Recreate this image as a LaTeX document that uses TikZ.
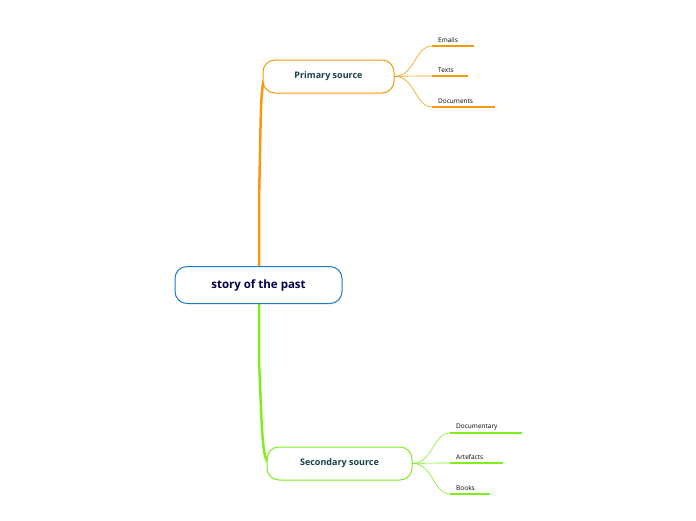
\documentclass[tikz,border=0pt]{standalone}
\usepackage{fontspec}
\setmainfont{Open Sans}
\definecolor{orng}{HTML}{F59A0C}
\definecolor{grn}{HTML}{80EE1E}
\definecolor{blu}{HTML}{1E7BC8}
\definecolor{txt}{HTML}{17404A}
\begin{document}
\begin{tikzpicture}[x=1pt,y=-1pt,
 box/.style={draw,rounded corners=12pt,line width=1pt,fill=white,text=txt,font=\bfseries},
 leaf/.style={font=\fontsize{6.5}{8}\selectfont,text=black,anchor=south west,inner sep=1pt}]
\useasboundingbox (0,0) rectangle (696,520);
% connectors
\coordinate (ct) at (259,268);
\coordinate (cb) at (259,301);
\draw[orng,line width=2.5pt] (ct) -- (259,200) .. controls (261,120) and (260,80) .. (266,76);
\draw[grn,line width=2.5pt] (cb) -- (259,360) .. controls (262,430) and (262,463) .. (270,463);
\node[box,draw=blu,minimum width=167pt,minimum height=37pt,font=\bfseries\fontsize{11.5}{14}\selectfont,text=black!70!blue] (c) at (258.5,285) {story of the past};
\node[box,draw=orng,minimum width=131pt,minimum height=33pt,font=\bfseries\fontsize{9}{11}\selectfont] (p) at (328.5,76.5) {Primary source};
\node[box,draw=grn,minimum width=145pt,minimum height=33pt,font=\bfseries\fontsize{9}{11}\selectfont] (s) at (339.5,463.5) {Secondary source};
% primary leaves
\foreach \n/\t/\y/\e in {pe/Emails/46/474, pt/Texts/76/468, pd/Documents/107/495}{
 \node[leaf] (\n) at (437,\y-2) {\t};
 \coordinate (\n a) at (432,\y); \coordinate (\n b) at (\e,\y);
 \draw[orng,line width=0.6pt] (p.east) .. controls (415,76) and (415,\y) .. (\n a);
 \draw[orng,line width=1.8pt] (\n a) -- (\n b);
}
\foreach \n/\t/\y/\e in {sd/Documentary/433/522, sa/Artefacts/463/503, sb/Books/494/490}{
 \node[leaf] (\n) at (455,\y-2) {\t};
 \coordinate (\n a) at (450,\y); \coordinate (\n b) at (\e,\y);
 \draw[grn,line width=0.6pt] (s.east) .. controls (433,463) and (433,\y) .. (\n a);
 \draw[grn,line width=1.8pt] (\n a) -- (\n b);
}
\end{tikzpicture}
\end{document}
